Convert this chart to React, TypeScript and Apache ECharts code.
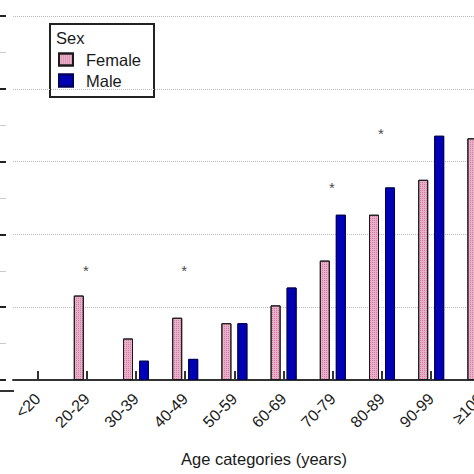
import React, { useEffect, useRef } from "react";
import * as echarts from "echarts";

const categories = ["<20", "20-29", "30-39", "40-49", "50-59", "60-69", "70-79", "80-89", "90-99", "≥100"];
const femaleValues: (number | null)[] = [null, 1.16, 0.57, 0.855, 0.78, 1.025, 1.64, 2.27, 2.75, 3.32];
const maleValues: (number | null)[] = [null, null, 0.265, 0.29, 0.78, 1.27, 2.27, 2.645, 3.355, 3.6];
const starValues: (number | null)[] = [null, 1.53, null, 1.53, null, null, 2.67, 3.42, null, null];
const legendTitle = "Sex";
const xAxisTitle = "Age categories (years)";

const FONT = "Liberation Sans, Arial, Helvetica, sans-serif";
const CHART_W = 530;
const CHART_H = 474;

export default function App() {
  const ref = useRef<HTMLDivElement>(null);
  useEffect(() => {
    document.body.style.margin = "0";
    const chart = echarts.init(ref.current!, null, { renderer: "svg", width: CHART_W, height: CHART_H });
    chart.setOption({
      animation: false,
      backgroundColor: "#ffffff",
      aria: { enabled: true, decal: { show: true } },
      grid: { left: 13, right: CHART_W - 505, top: 16, bottom: 94, containLabel: false, outerBoundsMode: "none" },
      legend: {
        orient: "vertical",
        left: 58,
        top: 51,
        icon: "rect",
        itemWidth: 14,
        itemHeight: 12,
        itemGap: 4,
        padding: 0,
        data: ["Female", "Male"],
        textStyle: { fontFamily: FONT, fontSize: 16.5, color: "#1a1a1a", padding: [0, 0, 0, 8] },
      },
      graphic: [
        {
          type: "rect",
          shape: { x: 50, y: 24, width: 104, height: 73 },
          style: { fill: "#ffffff", stroke: "#222222", lineWidth: 2 },
          z: 0,
        },
        {
          type: "text",
          left: 56,
          top: 29,
          style: { text: legendTitle, fontFamily: FONT, fontSize: 16.5, fill: "#1a1a1a" },
          z: 5,
        },
        {
          type: "line",
          shape: { x1: 0, y1: 391, x2: 14, y2: 391 },
          style: { stroke: "#333333", lineWidth: 2 },
        },
      ],
      xAxis: {
        type: "category",
        data: categories,
        offset: 10,
        axisLine: { show: true, lineStyle: { color: "#333333", width: 2 } },
        axisTick: { show: true, inside: true, length: 9, alignWithLabel: true, lineStyle: { color: "#333333", width: 2 } },
        axisLabel: { rotate: 45, margin: 6, fontFamily: FONT, fontSize: 16, color: "#1a1a1a", interval: 0 },
        name: xAxisTitle,
        nameLocation: "middle",
        nameGap: 60,
        nameTextStyle: { fontFamily: FONT, fontSize: 16.5, color: "#1a1a1a", padding: [0, 0, 0, 10] },
        splitLine: { show: false },
      },
      yAxis: {
        type: "value",
        min: 0,
        max: 5,
        interval: 1,
        offset: 7,
        axisLine: { show: false },
        axisTick: { show: true, length: 6, lineStyle: { color: "#222222", width: 2 } },
        minorTick: { show: true, splitNumber: 2, length: 6, lineStyle: { color: "#cccccc", width: 1 } },
        axisLabel: { show: false },
        splitLine: { show: true, lineStyle: { color: "#bbbbbb", type: "dotted", width: 1 } },
      },
      series: [
        {
          name: "Female",
          type: "bar",
          data: femaleValues,
          barWidth: 10,
          barGap: "60%",
          itemStyle: {
            color: "#eab0ca",
            borderColor: "#1a1a1a",
            borderWidth: 1,
            decal: {
              symbol: "rect",
              symbolSize: 1,
              color: "rgba(190,80,130,0.55)",
              dashArrayX: [1, 1],
              dashArrayY: [1, 1],
              rotation: 0,
            },
          },
        },
        {
          name: "Male",
          type: "bar",
          data: maleValues,
          barWidth: 10,
          itemStyle: { color: "#0000b4", borderColor: "#00005a", borderWidth: 1, decal: { symbol: "none" } },
        },
        {
          name: "sig",
          type: "scatter",
          data: starValues,
          symbolSize: 1,
          silent: true,
          itemStyle: { color: "rgba(0,0,0,0)", decal: { symbol: "none" } },
          label: {
            show: true,
            formatter: "*",
            position: "top",
            distance: 0,
            offset: [-1, 10],
            fontFamily: FONT,
            fontSize: 15,
            color: "#111111",
          },
        },
      ],
    });
    return () => chart.dispose();
  }, []);
  return (
    <div style={{ width: 474, height: 474, overflow: "hidden", position: "relative" }}>
      <div ref={ref} style={{ width: CHART_W, height: CHART_H }} />
    </div>
  );
}
